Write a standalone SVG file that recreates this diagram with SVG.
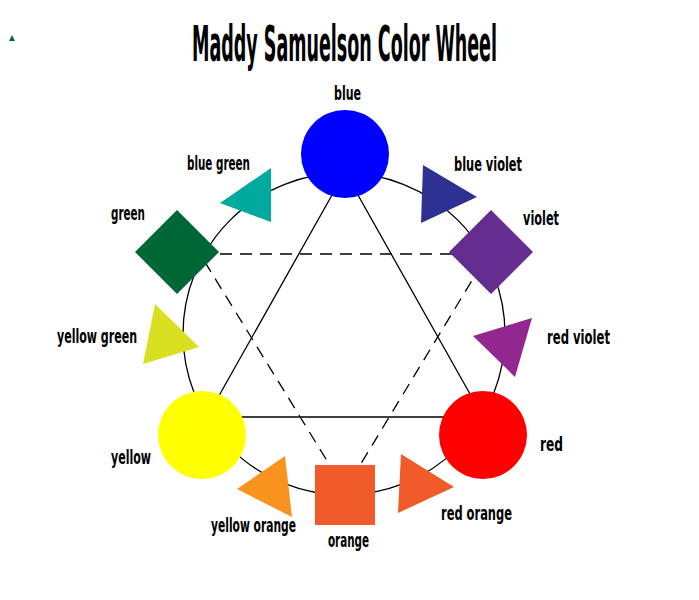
<svg xmlns="http://www.w3.org/2000/svg" width="699" height="600" viewBox="0 0 699 600">
<style>
.lbl{font-family:"Liberation Sans Narrow","DejaVu Sans Condensed","Liberation Sans",sans-serif;font-weight:bold;font-size:19px;fill:#000}
.title{font-family:"Liberation Sans Narrow","DejaVu Sans Condensed","Liberation Sans",sans-serif;font-weight:bold;font-size:30px;fill:#000}
.solid{fill:none;stroke:#000;stroke-width:1.3}
.dash{fill:none;stroke:#000;stroke-width:1.3;stroke-dasharray:12 8}
</style>
<rect width="699" height="600" fill="#fff"/>
<polygon points="9,41 15,41 12,35" fill="#006837"/>
<text class="title" transform="translate(192,61) scale(1,1.68)" x="0" y="0" textLength="305" lengthAdjust="spacingAndGlyphs">Maddy Samuelson Color Wheel</text>
<g id="connectors">
<circle class="solid" cx="344" cy="334" r="161"/>
<polygon class="solid" points="345,172 207,417 483,417"/>
<polygon class="dash" points="200,254 488,254 345,490"/>
</g>
<g id="blue"><circle cx="345" cy="154" r="44" fill="#0000FF"/><text class="lbl" x="334" y="100" textLength="27" lengthAdjust="spacingAndGlyphs">blue</text></g>
<g id="blue-green"><polygon points="271,168 220,203 271,222" fill="#00A99D"/><text class="lbl" x="187" y="170" textLength="63" lengthAdjust="spacingAndGlyphs">blue green</text></g>
<g id="blue-violet"><polygon points="423,165 477,197 421,223" fill="#2E3192"/><text class="lbl" x="454" y="171" textLength="68" lengthAdjust="spacingAndGlyphs">blue violet</text></g>
<g id="green"><polygon points="135,252 177,210 219,252 177,294" fill="#006837"/><text class="lbl" x="111" y="220" textLength="34" lengthAdjust="spacingAndGlyphs">green</text></g>
<g id="violet"><polygon points="449,252 491,210 533,252 491,294" fill="#662D91"/><text class="lbl" x="523" y="225" textLength="36" lengthAdjust="spacingAndGlyphs">violet</text></g>
<g id="yellow-green"><polygon points="155,304 199,347 143,364" fill="#D9E021"/><text class="lbl" x="57" y="343" textLength="80" lengthAdjust="spacingAndGlyphs">yellow green</text></g>
<g id="red-violet"><polygon points="473,336 532,318 515,377" fill="#92278F"/><text class="lbl" x="547" y="344" textLength="63" lengthAdjust="spacingAndGlyphs">red violet</text></g>
<g id="yellow"><circle cx="202" cy="435" r="44" fill="#FFFF00"/><text class="lbl" x="111" y="464" textLength="40" lengthAdjust="spacingAndGlyphs">yellow</text></g>
<g id="red"><circle cx="483" cy="435" r="44" fill="#FF0000"/><text class="lbl" x="540" y="451" textLength="23" lengthAdjust="spacingAndGlyphs">red</text></g>
<g id="yellow-orange"><polygon points="237,489 285,456 292,517" fill="#F7931E"/><text class="lbl" x="211" y="532" textLength="85" lengthAdjust="spacingAndGlyphs">yellow orange</text></g>
<g id="orange"><rect x="315" y="465" width="60" height="60" fill="#F15A29"/><text class="lbl" x="328" y="547" textLength="41" lengthAdjust="spacingAndGlyphs">orange</text></g>
<g id="red-orange"><polygon points="401,454 454,487 398,513" fill="#F15A29"/><text class="lbl" x="441" y="520" textLength="71" lengthAdjust="spacingAndGlyphs">red orange</text></g>
</svg>
